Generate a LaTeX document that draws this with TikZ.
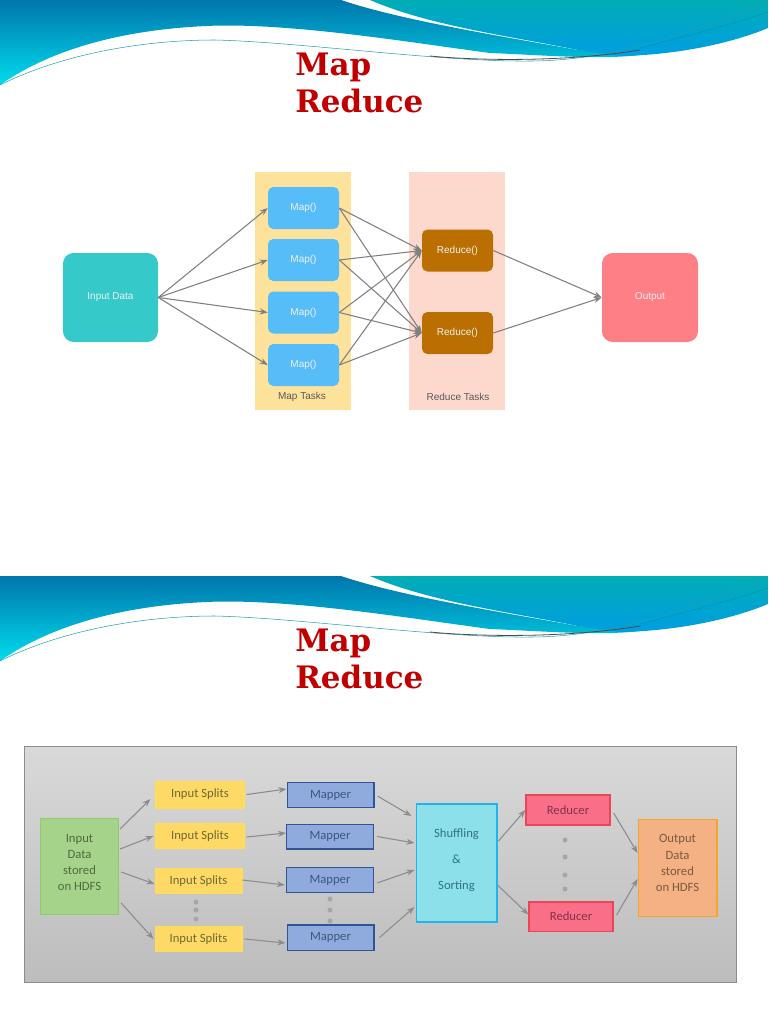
\documentclass[tikz,border=0pt]{standalone}
\usepackage{fontspec}
\usetikzlibrary{calc, arrows.meta}
\newfontfamily\titlefont{DejaVu Serif}
\newfontfamily\plainfont{Liberation Sans}
\newfontfamily\boxfont{Carlito}
\definecolor{bandtop}{HTML}{0076AC}
\definecolor{bandlow}{HTML}{00DCEC}
\definecolor{wingtop}{HTML}{00ADB5}
\definecolor{winglow}{HTML}{009EE2}
\definecolor{headred}{HTML}{C00000}
\definecolor{mapcol}{HTML}{FDE29C}
\definecolor{redcol}{HTML}{FDD9CD}
\definecolor{inputblock}{HTML}{35C9C9}
\definecolor{mapblock}{HTML}{56BDF9}
\definecolor{reduceblock}{HTML}{BB6F00}
\definecolor{outputblock}{HTML}{FF7F87}
\definecolor{hdfsfill}{HTML}{A6D38A}
\definecolor{hdfsline}{HTML}{8DCB6C}
\definecolor{hdfstext}{HTML}{4E6B3E}
\definecolor{splitfill}{HTML}{FFD966}
\definecolor{splitline}{HTML}{FFDD55}
\definecolor{splittext}{HTML}{6F6A32}
\definecolor{mapperfill}{HTML}{8FAADC}
\definecolor{mapperline}{HTML}{2F5597}
\definecolor{mappertext}{HTML}{3F5680}
\definecolor{shufflefill}{HTML}{8BE0EA}
\definecolor{shuffleline}{HTML}{1FB5EA}
\definecolor{shuffletext}{HTML}{2F7480}
\definecolor{reducerfill}{HTML}{FA6F88}
\definecolor{reducerline}{HTML}{EE4455}
\definecolor{reducertext}{HTML}{85304C}
\definecolor{storefill}{HTML}{F4B183}
\definecolor{storeline}{HTML}{F4A62A}
\definecolor{storetext}{HTML}{7A5A42}

\begin{document}
\begin{tikzpicture}[x=0.75pt, y=-0.75pt]
    \tikzstyle{heading}=[anchor=north west, inner sep=0, align=left, text=headred, font=\titlefont\bfseries\fontsize{23.2}{27.75}\selectfont]
    \tikzstyle{plain}=[inner sep=0, font=\plainfont\fontsize{7.5}{9}\selectfont]
    \tikzstyle{tasks}=[plain, rectangle, minimum width=72pt, minimum height=178.5pt]
    \tikzstyle{block}=[plain, rounded corners=4pt, text=white!88!gray, minimum width=53.25pt, minimum height=31.5pt]
    \tikzstyle{flow}=[draw=black!50, line width=0.8pt, -{Stealth[length=6pt, width=4.5pt]}]
    \tikzstyle{step2}=[draw, line width=1pt, inner sep=0, align=center, font=\boxfont\fontsize{9.5}{12.2}\selectfont]
    \tikzstyle{splitbox}=[step2, fill=splitfill, draw=splitline, text=splittext]
    \tikzstyle{mapperbox}=[step2, fill=mapperfill, draw=mapperline, text=mappertext]
    \tikzstyle{reducerbox}=[step2, fill=reducerfill, draw=reducerline, text=reducertext]
    \tikzstyle{dot}=[fill=black!35]

    \useasboundingbox (0, 0) rectangle (768, 1024);

    % Banners and headings
    \foreach \topy/\name in {0/first, 576/second} {
        \begin{scope}[shift={(0, \topy)}]
            \shade[top color=bandtop, bottom color=bandlow] (0, 0) -- (341, 0)
                .. controls (400, 20) and (500, 36) .. (578, 50) -- (640, 55)
                .. controls (600, 60) and (540, 55) .. (490, 53)
                .. controls (420, 44) and (290, 22) .. (206, 26)
                .. controls (120, 30) and (50, 50) .. (0, 85) -- cycle;
            \shade[top color=wingtop, bottom color=winglow] (370, 0)
                .. controls (430, 26) and (510, 36) .. (578, 50) -- (620, 56)
                .. controls (680, 55) and (735, 42) .. (768, 28) -- (768, 0) -- cycle;
            \draw[black!20!bandlow!70!gray, line width=0.4pt] (0, 85)
                .. controls (60, 55) and (140, 40) .. (215, 40)
                .. controls (300, 42) and (440, 62) .. (530, 61)
                .. controls (600, 61) and (680, 40) .. (768, 0);
            \draw[black!70, line width=0.6pt] (430, 56) .. controls (470, 60) and (560, 63) .. (640, 50);
            \draw[bandtop!70!black, densely dotted, line width=0.3pt] (640, 48) .. controls (690, 35) and (730, 25) .. (768, 12);
            \node[heading] (title\name) at (295, 53) {Map\\Reduce};
        \end{scope}
    }

    % Task columns
    \node[tasks, fill=mapcol] (maptasks) at (303, 291) {};
    \node[tasks, fill=redcol] (reducetasks) at (457, 291) {};
    \node[plain, text=black!65] (maplabel) at (302, 397) {Map Tasks};
    \node[plain, text=black!65] (reducelabel) at (458, 397) {Reduce Tasks};

    % Blocks
    \node[block, rounded corners=8pt, fill=inputblock, minimum width=71.25pt, minimum height=66.75pt] (input) at (110.5, 297.5) {Input Data};
    \node[block, fill=mapblock] (map1) at (303.5, 208) {Map()};
    \node[block, fill=mapblock] (map2) at (303.5, 260) {Map()};
    \node[block, fill=mapblock] (map3) at (303.5, 312.5) {Map()};
    \node[block, fill=mapblock] (map4) at (303.5, 365) {Map()};
    \node[block, fill=reduceblock] (reduce1) at (457.5, 250.5) {Reduce()};
    \node[block, fill=reduceblock] (reduce2) at (457.5, 333) {Reduce()};
    \node[block, rounded corners=8pt, fill=outputblock, minimum width=72pt, minimum height=66.75pt] (output) at (650, 297.5) {Output};

    % Connections
    \foreach \m in {1, 2, 3, 4} {
        \draw[flow] (input.east) -- (map\m.west);
        \draw[flow] (map\m.east) -- (reduce1.west);
        \draw[flow] (map\m.east) -- (reduce2.west);
    }
    \foreach \r in {1, 2} {
        \draw[flow] (reduce\r.east) -- (output.west);
    }

    % Second picture
    \node[draw=black!45, line width=1pt, top color=black!15, bottom color=black!26, minimum width=534pt, minimum height=177pt, inner sep=0] (panel) at (380.5, 864.5) {};

    \node[step2, fill=hdfsfill, draw=hdfsline, text=hdfstext, minimum width=58.5pt, minimum height=72pt] (hdfs) at (79.5, 866.5) {Input\\Data\\stored\\on HDFS\\[-6.2pt]~};
    \node[splitbox, minimum width=66pt, minimum height=20pt] (split1) at (200, 794.5) {Input Splits};
    \node[splitbox, minimum width=66pt, minimum height=19pt] (split2) at (200, 836) {Input Splits};
    \node[splitbox, minimum width=65pt, minimum height=19pt] (split3) at (198.5, 881) {Input Splits};
    \node[splitbox, minimum width=65pt, minimum height=19pt] (split4) at (198.5, 939) {Input Splits};
    \node[mapperbox, minimum width=65pt, minimum height=19pt] (mapper1) at (330.5, 795) {Mapper};
    \node[mapperbox, minimum width=65pt, minimum height=18.5pt] (mapper2) at (330, 836.5) {Mapper};
    \node[mapperbox, minimum width=65pt, minimum height=19pt] (mapper3) at (330, 880) {Mapper};
    \node[mapperbox, minimum width=65pt, minimum height=19pt] (mapper4) at (330.5, 937.5) {Mapper};
    \node[step2, fill=shufflefill, draw=shuffleline, text=shuffletext, minimum width=60.5pt, minimum height=88.5pt, font=\boxfont\fontsize{9.5}{19.5}\selectfont] (shuffle) at (456.5, 863) {Shuffling\\\&\\Sorting\\[-14.3pt]~};
    \node[reducerbox, minimum width=63pt, minimum height=22.5pt] (reducer1) at (568, 810) {Reducer};
    \node[reducerbox, minimum width=63pt, minimum height=22pt] (reducer2) at (571, 916.5) {Reducer};
    \node[step2, fill=storefill, draw=storeline, text=storetext, minimum width=59pt, minimum height=73pt] (store) at (677.5, 868) {Output\\Data\\stored\\on HDFS\\[-5pt]~};

    % Dots
    \foreach \x/\y in {196/902, 196/910, 196/919, 330/899, 330/910, 330/921, 565/840, 565/857, 565/875, 565/889} {
        \fill[dot] (\x, \y) circle (2.5);
    }

    % Arrows of the second picture
    \foreach \from/\fx/\fy/\to/\tx/\ty in {
        hdfs/1/-37.5/split1/-5/4.5, hdfs/1/-17.5/split2/-2/0, hdfs/2/5.5/split3/0/3, hdfs/2/36.5/split4/-1/0,
        split1/2/0/mapper1/0/-6, split2/2/1/mapper2/0/-3.5, split3/0/-1/mapper3/-1/5, split4/2/0/mapper4/-1/5.5,
        mapper1/3/1/shuffle/-4/-47, mapper2/3/0/shuffle/-1/-20, mapper3/3/3/shuffle/-1/7, mapper4/5/0/shuffle/-1/44,
        shuffle/1/-22/reducer1/0/0, shuffle/0/22/reducer2/0/-2,
        reducer1/3/3/store/0/-15, reducer2/3/-1.5/store/0/11} {
        \draw[flow, draw=black!45] ($(\from.east)+(\fx, \fy)$) -- ($(\to.west)+(\tx, \ty)$);
    }
\end{tikzpicture}
\end{document}
